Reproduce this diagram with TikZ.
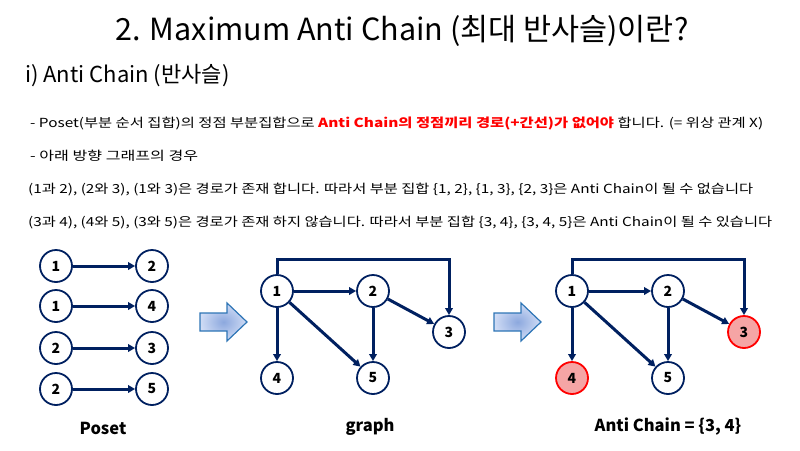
\documentclass[tikz,border=0pt]{standalone}
\usepackage{fontspec}
\setmainfont{Noto Sans CJK KR}
\usetikzlibrary{arrows.meta}

\definecolor{navy}{RGB}{0,32,96}
\definecolor{arrowline}{RGB}{46,117,182}
\definecolor{arrowin}{RGB}{140,168,222}
\definecolor{arrowout}{RGB}{208,220,245}
\definecolor{pinkfill}{RGB}{245,165,165}
\definecolor{hotred}{RGB}{255,0,0}

\newcommand{\fitline}[2]{\resizebox{#1}{\height}{#2}}

\tikzset{
  vertex/.style={circle, draw=navy, line width=1.8pt, fill=white,
    minimum size=32pt, inner sep=0pt, font=\fontsize{14}{14}\bfseries},
  picked/.style={vertex, draw=hotred, fill=pinkfill},
  edge/.style={draw=navy, line width=3pt,
    -{Triangle[length=7pt,width=7.5pt]}},
  bodytext/.style={anchor=west, inner sep=0pt, font=\fontsize{12.5}{12.5}\selectfont},
  caption/.style={font=\fontsize{16.5}{16.5}\bfseries},
  blockarrow/.pic={
    \draw[arrowline, line width=1.2pt, inner color=arrowin, outer color=arrowout]
      (0,-9) -- (27,-9) -- (27,-19) -- (47,0) -- (27,19) -- (27,9) -- (0,9) -- cycle;
  }
}

\begin{document}
\begin{tikzpicture}[x=1pt, y=-1pt]

  \useasboundingbox (0,0) rectangle (800,450);

  % title and heading
  \node[font=\fontsize{30.5}{30.5}\selectfont] (title) at (402,31)
    {2. Maximum Anti Chain (최대 반사슬)이란?};
  \node[anchor=west, inner sep=0pt, font=\fontsize{22}{22}\selectfont] (head) at (25,76)
    {i) Anti Chain (반사슬)};

  % body lines
  \node[bodytext] (line1) at (30,123) {\fitline{733pt}{- Poset(부분 순서 집합)의 정점 부분집합으로 {\color{hotred}\bfseries Anti Chain의 정점끼리 경로(+간선)가 없어야} 합니다. (= 위상 관계 X)}};
  \node[bodytext] (line2) at (30,156) {\fitline{168pt}{- 아래 방향 그래프의 경우}};
  \node[bodytext] (line3) at (28,190) {\fitline{725pt}{(1과 2), (2와 3), (1와 3)은 경로가 존재 합니다. 따라서 부분 집합 \{1, 2\}, \{1, 3\}, \{2, 3\}은 Anti Chain이 될 수 없습니다}};
  \node[bodytext] (line4) at (28,223) {\fitline{744pt}{(3과 4), (4와 5), (3와 5)은 경로가 존재 하지 않습니다. 따라서 부분 집합 \{3, 4\}, \{3, 4, 5\}은 Anti Chain이 될 수 있습니다}};

  % poset pairs
  \foreach \a/\b/\y [count=\i] in {1/2/266, 1/4/306, 2/3/348, 2/5/389} {
    \node[vertex] (p\i a) at (56,\y) {\a};
    \node[vertex] (p\i b) at (152,\y) {\b};
    \draw[edge] (p\i a) -- (p\i b);
  }
  \node[caption] (poset) at (103,428) {Poset};

  % block arrows
  \pic at (200,322) {blockarrow};
  \pic at (494,322) {blockarrow};

  % graph
  \node[vertex] (g1) at (277,291) {1};
  \node[vertex] (g2) at (373,291) {2};
  \node[vertex] (g3) at (449,332) {3};
  \node[vertex] (g4) at (277,378) {4};
  \node[vertex] (g5) at (373,378) {5};
  \coordinate (gtop) at (0,259);
  \draw[edge] (g1) -- (g2);
  \draw[edge] (g1) -- (g4);
  \draw[edge] (g1) -- (g5);
  \draw[edge] (g2) -- (g5);
  \draw[edge] (g2) -- (g3);
  \draw[edge] (g1.north) -- (g1 |- gtop) -| (g3);
  \node[caption] (graph) at (370,427) {graph};

  % anti chain
  \node[vertex] (a1) at (572,291) {1};
  \node[vertex] (a2) at (668,291) {2};
  \node[picked] (a3) at (744,332) {3};
  \node[picked] (a4) at (572,378) {4};
  \node[vertex] (a5) at (668,378) {5};
  \draw[edge] (a1) -- (a2);
  \draw[edge] (a1) -- (a4);
  \draw[edge] (a1) -- (a5);
  \draw[edge] (a2) -- (a5);
  \draw[edge] (a2) -- (a3);
  \draw[edge] (a1.north) -- (a1 |- gtop) -| (a3);
  \node[caption] (anti) at (668,427) {Anti Chain = \{3, 4\}};

\end{tikzpicture}
\end{document}
